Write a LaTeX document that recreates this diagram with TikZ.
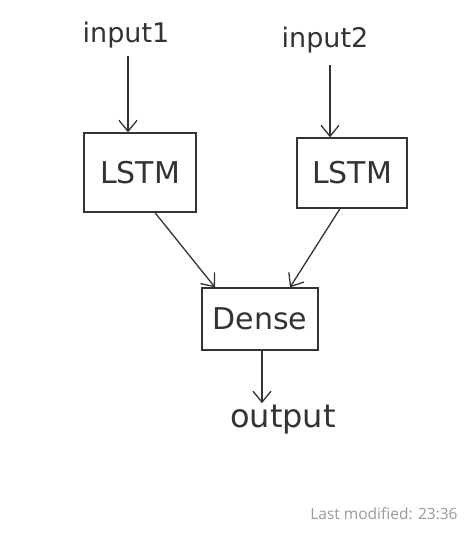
\documentclass[tikz,border=0pt]{standalone}
\usepackage{fontspec}
\setmainfont{DejaVu Sans}
\newfontfamily\notefont{Open Sans}
\usetikzlibrary{arrows.meta}
\definecolor{ink}{HTML}{333333}
\definecolor{note}{HTML}{9A9A9A}
\tikzset{
  box/.style={draw=ink, line width=1.3pt, minimum width=#1, inner sep=0pt, font=\fontsize{30}{34}\selectfont\color{ink}},
  label/.style={inner sep=2pt, font=\fontsize{27}{31}\selectfont\color{ink}},
  arr/.style={draw=ink, line width=1.3pt, -{Straight Barb[length=11pt,width=18pt,line width=1.3pt]}},
}
\begin{document}
\begin{tikzpicture}[x=1pt,y=-1pt]
\useasboundingbox[fill=white] (0,0) rectangle (474,538);
\node[label] (input1) at (126,35) {input1};
\node[label] (input2) at (325,40) {input2};
\node[box=112pt, minimum height=79pt] (lstm1) at (140,172.5) {LSTM};
\node[box=110pt, minimum height=70pt] (lstm2) at (352,173) {LSTM};
\node[box=116pt, minimum height=62pt] (dense) at (260,319) {Dense};
\node[label, font=\fontsize{32}{36}\selectfont\color{ink}] (output) at (283,420) {output};
\node[inner sep=0pt, font=\notefont\fontsize{15.5}{18}\selectfont\color{note}] (note) at (384,514) {Last modified: 23:36};
\draw[arr] ([xshift=2pt]input1.south) ++(0,6) coordinate (s1) (s1) -- (s1 |- lstm1.north);
\draw[arr] ([xshift=5pt]input2.south) ++(0,10) coordinate (s2) (s2) -- (s2 |- lstm2.north);
\draw[arr] ([xshift=15pt]lstm1.south) -- ([xshift=-45pt]dense.north);
\draw[arr] ([xshift=-12pt]lstm2.south) -- ([xshift=30pt]dense.north);
\draw[arr] ([xshift=2pt]dense.south) -- ([xshift=2pt]dense.south |- output.north);
\end{tikzpicture}
\end{document}
